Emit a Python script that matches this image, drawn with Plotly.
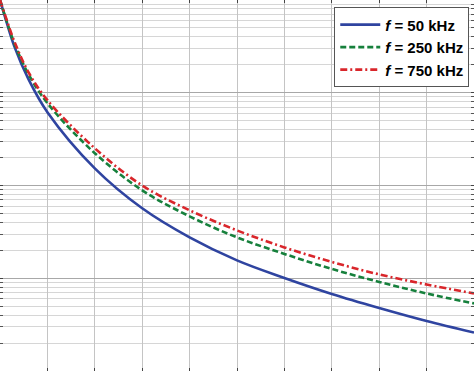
import plotly.graph_objects as go

# x positions (arbitrary linear units, 10 grid divisions)
x_vals = [0, 0.1, 0.3, 0.6, 1, 2, 3, 4, 5, 6, 7, 8, 9, 10]

# series values (log-scaled y)
y_50k = [10000, 6714, 3184, 1403, 617, 153, 56.8, 27.6, 15.6, 10.07, 6.77, 4.78, 3.46, 2.60]
y_250k = [10000, 6887, 3436, 1588, 773, 223, 88.7, 46.5, 27.6, 18.3, 12.6, 9.12, 6.85, 5.35]
y_750k = [10000, 7063, 3606, 1667, 832, 252, 100, 54.0, 32.8, 21.5, 15.0, 11.0, 8.57, 6.86]

names = ["<i>f</i> = 50 kHz", "<i>f</i> = 250 kHz", "<i>f</i> = 750 kHz"]
colors = ["#2f44a0", "#16803c", "#d9262b"]
dashes = ["solid", "6px,3px", "7px,3px,2px,3px"]

fig = go.Figure()
for ys, nm, c, d in zip([y_50k, y_250k, y_750k], names, colors, dashes):
    fig.add_trace(go.Scatter(x=x_vals, y=ys, mode="lines", name=nm,
                             line=dict(color=c, width=2.6, dash=d, shape="spline", smoothing=1.0)))

fig.update_layout(
    width=474, height=371,
    margin=dict(l=0, r=0, t=0, b=0),
    paper_bgcolor="white", plot_bgcolor="white",
    showlegend=True,
    legend=dict(x=0.99, xanchor="right", y=0.98, yanchor="top",
                bgcolor="white", bordercolor="#555555", borderwidth=1,
                font=dict(family="Liberation Sans, Arial", size=15, color="black", weight="bold"),
                tracegroupgap=0, itemwidth=40),
)
fig.update_xaxes(range=[0, 10], dtick=1, showgrid=True, gridcolor="#c4c4c4", gridwidth=1,
                 showticklabels=False, zeroline=False, showline=False,
                 ticks="inside", ticklen=3, tickcolor="#444444", mirror="ticks")
fig.update_yaxes(type="log", range=[0, 4], dtick=1, showgrid=True, gridcolor="#a8a8a8", gridwidth=1,
                 showticklabels=False, zeroline=False, showline=False,
                 ticks="inside", ticklen=3, tickcolor="#444444", mirror="ticks",
                 minor=dict(showgrid=True, gridcolor="#d6d6d6", gridwidth=1,
                            ticks="inside", ticklen=3, tickcolor="#555555"))

fig.write_html("out.html")
